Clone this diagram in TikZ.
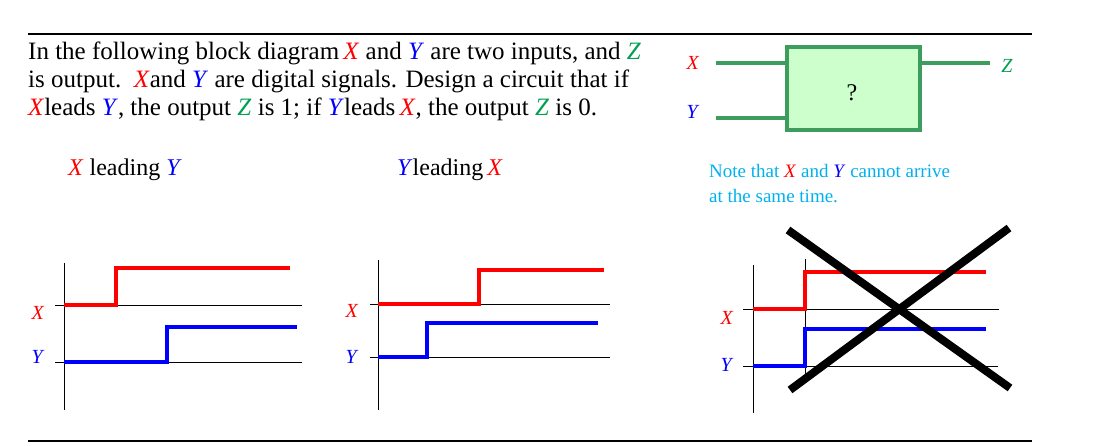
\documentclass[tikz,border=0pt]{standalone}
\usepackage{fontspec}
\setmainfont{Liberation Serif}
\begin{document}
\begin{tikzpicture}[x=1pt,y=-1pt,
  txt/.style={font=\fontsize{25}{28}\selectfont,inner sep=0pt,anchor=base west},
  lbl/.style={font=\fontsize{24}{26}\selectfont,inner sep=0pt},
  sm/.style={font=\fontsize{20}{22}\selectfont,inner sep=0pt},
  nt/.style={font=\fontsize{19}{22}\selectfont,inner sep=0pt},
  sig/.style={line width=4pt},
  ax/.style={line width=1pt,black},
  wire/.style={line width=4pt,draw=wgreen}]
\definecolor{wgreen}{HTML}{3C9D5D}
\definecolor{zgreen}{HTML}{00A050}
\definecolor{cyanc}{HTML}{00B0F0}
\definecolor{boxfill}{HTML}{CCFFCC}
\newcommand{\xr}{\textcolor{red}{\textit{X}}}
\newcommand{\yb}{\textcolor{blue}{\textit{Y}}}
\newcommand{\zg}{\textcolor{zgreen}{\textit{Z}}}
\useasboundingbox (0,0) rectangle (1099,446);
\draw[line width=2pt] (28,34) -- (1032,34);
\draw[line width=1.5pt] (28,441) -- (1032,441);
\node[txt] (l1) at (28,60) {In the following block diagram\,\xr{} and \yb{} are two inputs, and \zg};
\node[txt] (l2) at (28,88) {is output.\ \ \xr{}and \yb{} are digital signals. Design a circuit that if};
\node[txt] (l3) at (28,116) {\xr{}leads \yb{}, the output \zg{} is 1; if \yb{}leads\,\xr{}, the output \zg{} is 0.};
% block
\node[draw=wgreen,line width=4pt,fill=boxfill,minimum width=133pt,minimum height=83pt,inner sep=0pt] (box) at (853.5,88.5) {};
\node[lbl] (q) at (852,93) {?};
\coordinate (xin) at (716,63); \coordinate (yin) at (716,118); \coordinate (zout) at (990,63);
\draw[wire] (xin) -- (xin -| box.west);
\draw[wire] (yin) -- (yin -| box.west);
\draw[wire] (zout -| box.east) -- (zout);
\node[sm,text=red] (xl) at (693,63) {\textit{X}};
\node[sm,text=blue] (yl) at (693,112) {\textit{Y}};
\node[sm,text=zgreen] (zl) at (1007,66) {\textit{Z}};
% headings
\node[lbl] (h1) at (125,170) {\xr{} leading \yb};
\node[lbl] (h2) at (450,170) {\yb{}leading\,\xr};
\node[nt,text=cyanc,anchor=west] (n1) at (709,171) {Note that \textcolor{red}{\textit{X}} and \textcolor{blue}{\textit{Y}} cannot arrive};
\node[nt,text=cyanc,anchor=west] (n2) at (709,196) {at the same time.};
% graph 1
\draw[ax] (64,263) -- (64,410);
\draw[ax] (55,305) -- (302,305);
\draw[ax] (55,362) -- (302,362);
\draw[sig,red] (64,305) -- (116,305) -- (116,268) -- (290,268);
\draw[sig,blue] (64,362) -- (167,362) -- (167,327) -- (297,327);
\node[sm,text=red] (g1x) at (38,313) {\textit{X}};
\node[sm,text=blue] (g1y) at (38,357) {\textit{Y}};
% graph 2
\draw[ax] (378,260) -- (378,410);
\draw[ax] (370,304) -- (610,304);
\draw[ax] (370,357) -- (610,357);
\draw[sig,red] (378,304) -- (479,304) -- (479,270) -- (604,270);
\draw[sig,blue] (378,357) -- (427,357) -- (427,323) -- (598,323);
\node[sm,text=red] (g2x) at (352,311) {\textit{X}};
\node[sm,text=blue] (g2y) at (352,357) {\textit{Y}};
% graph 3
\draw[ax] (753,265) -- (753,413);
\draw[ax] (805,259) -- (805,380);
\draw[ax] (743,309) -- (999,309);
\draw[ax] (743,366) -- (998,366);
\draw[sig,red] (753,309) -- (805,309) -- (805,272) -- (986,272);
\draw[sig,blue] (753,366) -- (805,366) -- (805,329) -- (986,329);
\node[sm,text=red] (g3x) at (727,318) {\textit{X}};
\node[sm,text=blue] (g3y) at (727,365) {\textit{Y}};
\draw[line width=8pt] (788,230) -- (1010,388);
\draw[line width=8pt] (1009,228) -- (790,390);
\end{tikzpicture}
\end{document}
